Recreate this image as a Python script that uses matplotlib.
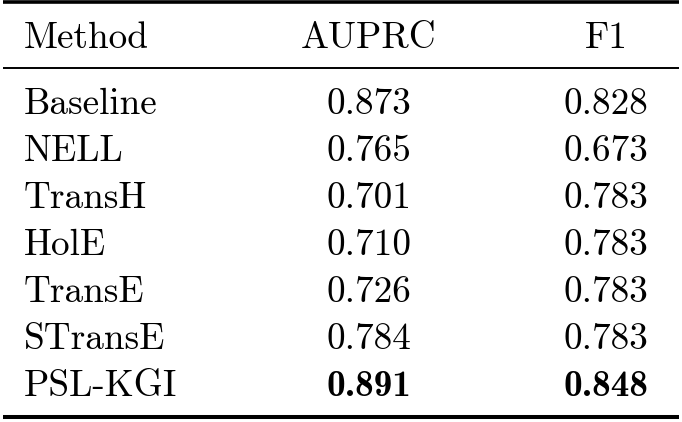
import matplotlib
matplotlib.use('Agg')
import matplotlib.pyplot as plt
from matplotlib.lines import Line2D

# table contents
headers = ['Method', 'AUPRC', 'F1']
methods = ['Baseline', 'NELL', 'TransH', 'HolE', 'TransE', 'STransE', 'PSL-KGI']
auprc = [0.873, 0.765, 0.701, 0.710, 0.726, 0.784, 0.891]
f1 = [0.828, 0.673, 0.783, 0.783, 0.783, 0.783, 0.848]
best_row = 'PSL-KGI'

W, H = 682, 422
fig = plt.figure(figsize=(W / 100, H / 100), dpi=100)
fig.patch.set_facecolor('white')

fs = 26.8
col_x = [24, 369, 606]
header_y = 35
row_y0 = 101
row_step = 47


def px(x, y):
    return x / W, 1 - y / H


def rule(y, lw):
    fig.add_artist(Line2D([3 / W, 679 / W], [1 - y / H, 1 - y / H],
                          color='black', linewidth=lw, solid_capstyle='butt'))


rule(1.8, 2.6)
rule(68, 1.4)
rule(417, 2.9)

# header
for i, h in enumerate(headers):
    x, y = px(col_x[i], header_y)
    fig.text(x, y, h, family='cmr10', fontsize=fs,
             ha='left' if i == 0 else 'center', va='center_baseline')

# rows
for r, name in enumerate(methods):
    yy = row_y0 + r * row_step
    fam = 'cmb10' if name == best_row else 'cmr10'
    x, y = px(col_x[0], yy)
    fig.text(x, y, name, family='cmr10', fontsize=fs, ha='left', va='center_baseline')
    x, y = px(col_x[1], yy)
    fig.text(x, y, f'{auprc[r]:.3f}', family=fam, fontsize=fs, ha='center', va='center_baseline')
    x, y = px(col_x[2], yy)
    fig.text(x, y, f'{f1[r]:.3f}', family=fam, fontsize=fs, ha='center', va='center_baseline')

fig.savefig('out.png', dpi=100, facecolor='white')
